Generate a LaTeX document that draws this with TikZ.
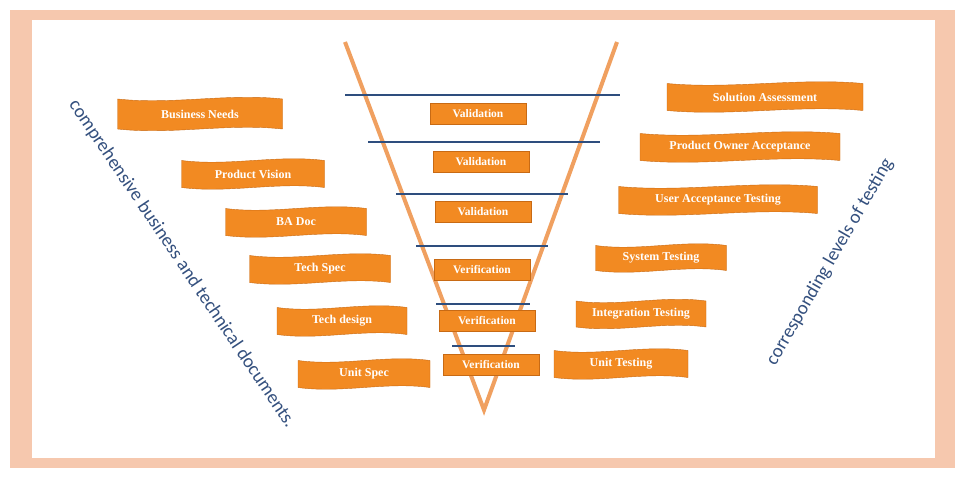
\documentclass[tikz,border=0pt]{standalone}
\usepackage{fontspec}
\setmainfont{Liberation Serif}
\newfontfamily\lblfont{Carlito}
\definecolor{bor}{HTML}{F28A22}
\definecolor{bord}{HTML}{C86A14}
\definecolor{vor}{HTML}{F0A060}
\definecolor{hbl}{HTML}{2E4E7E}
\definecolor{frm}{HTML}{F6C8AE}
\definecolor{sbl}{HTML}{34507E}
\begin{document}
\begin{tikzpicture}[x=1pt,y=-1pt,
  banner/.style={text=white,font=\bfseries\fontsize{12}{14}\selectfont},
  stepbox/.style={fill=bor,draw=bord,line width=0.5pt,minimum width=96pt,minimum height=21pt,text=white,font=\bfseries\fontsize{11.5}{13}\selectfont},
  vline/.style={draw=vor,line width=4pt},
  hline/.style={draw=hbl,line width=1.8pt},
  side/.style={text=sbl,font=\lblfont\fontsize{19}{22}\selectfont}]
\useasboundingbox (0,0) rectangle (966,478);
\fill[frm] (10,10) rectangle (955,468);
\fill[white] (32,20) rectangle (935,458);
\newcommand{\wavebox}[6]{%
  \fill[bor,draw=bord,line width=0.4pt]
    ({#2-#4/2},{#3-#5/2+3}) .. controls ({#2-#4/6},{#3-#5/2+9}) and ({#2+#4/6},{#3-#5/2-3}) .. ({#2+#4/2},{#3-#5/2+3})
    -- ({#2+#4/2},{#3+#5/2-3}) .. controls ({#2+#4/6},{#3+#5/2-9}) and ({#2-#4/6},{#3+#5/2+3}) .. ({#2-#4/2},{#3+#5/2-3}) -- cycle;
  \node[banner] (#1) at (#2,#3) {#6};}
\wavebox{bn}{200}{114}{165}{36}{Business Needs}
\wavebox{pv}{253}{174}{143}{33}{Product Vision}
\wavebox{ba}{296}{222}{141}{33}{BA Doc}
\wavebox{ts}{320}{269}{141}{33}{Tech Spec}
\wavebox{td}{342}{321}{130}{33}{Tech design}
\wavebox{us}{364}{374}{132}{33}{Unit Spec}
\wavebox{sa}{765}{97}{196}{33}{Solution Assessment}
\wavebox{poa}{740}{147}{200}{33}{Product Owner Acceptance}
\wavebox{uat}{718}{200}{199}{33}{User Acceptance Testing}
\wavebox{st}{661}{258}{131}{31}{System Testing}
\wavebox{it}{641}{314}{130}{32}{Integration Testing}
\wavebox{ut}{621}{364}{134}{33}{Unit Testing}
\coordinate (vl) at (345,42); \coordinate (vr) at (617,42); \coordinate (vb) at (484,410);
\draw[vline,line join=miter] (vl) -- (vb) -- (vr);
\foreach \y/\a/\b in {95/345/620,142/368/600,194/396/568,246/416/548,304/436/530,346/452/515}
  \draw[hline] (\a,\y) -- (\b,\y);
\node[stepbox] (v1) at (478,114) {Validation};
\node[stepbox] (v2) at (481,162) {Validation};
\node[stepbox] (v3) at (483,212) {Validation};
\node[stepbox] (r1) at (482,270) {Verification};
\node[stepbox] (r2) at (487,321) {Verification};
\node[stepbox] (r3) at (491,365) {Verification};
\node[side,rotate=-56] (lt) at (182,264) {comprehensive business and technical documents.};
\node[side,rotate=60] (rt) at (830,262) {corresponding levels of testing};
\end{tikzpicture}
\end{document}
